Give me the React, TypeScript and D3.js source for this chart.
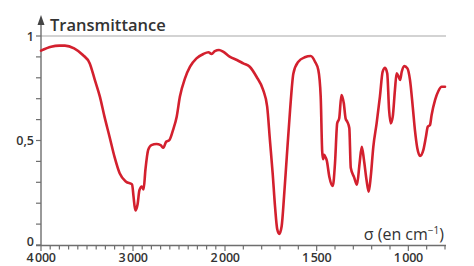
import React from "react";
import * as d3 from "d3";

const wavenumbers: number[] = [
  4000, 3890, 3800, 3740, 3640, 3545, 3470, 3415, 3360, 3310, 3255, 3200, 3145, 3075, 3010,
  2995, 2975, 2950, 2930, 2905, 2885, 2865, 2835, 2800, 2745, 2700, 2670, 2640, 2605, 2565,
  2525, 2490, 2435, 2380, 2310, 2235, 2180, 2145, 2110, 2065, 2020, 1975, 1935, 1900, 1865,
  1828, 1792, 1770, 1755, 1740, 1727, 1715, 1704, 1691, 1678, 1663, 1645, 1627, 1600, 1565,
  1532, 1509, 1491, 1478, 1470, 1465, 1460, 1452, 1445, 1431, 1412, 1400, 1388, 1377, 1365,
  1352, 1342, 1333, 1322, 1314, 1296, 1280, 1266, 1254, 1242, 1228, 1216, 1205, 1191, 1173,
  1155, 1140, 1127, 1115, 1105, 1096, 1085, 1073, 1064, 1053, 1045, 1036, 1022, 1005, 991,
  976, 964, 951, 936, 918, 904, 894, 882, 873, 854, 836, 818, 800,
];
const transmittance: number[] = [
  0.93, 0.949, 0.954, 0.954, 0.941, 0.909, 0.869, 0.79, 0.71, 0.614, 0.518, 0.42, 0.343, 0.303, 0.29,
  0.235, 0.165, 0.195, 0.262, 0.28, 0.266, 0.36, 0.455, 0.478, 0.483, 0.478, 0.465, 0.494, 0.502, 0.55,
  0.614, 0.71, 0.797, 0.853, 0.893, 0.914, 0.922, 0.914, 0.928, 0.933, 0.925, 0.901, 0.885, 0.869, 0.853,
  0.805, 0.742, 0.662, 0.502, 0.343, 0.183, 0.075, 0.053, 0.09, 0.231, 0.422, 0.646, 0.821, 0.877, 0.898,
  0.904, 0.877, 0.837, 0.71, 0.45, 0.41, 0.431, 0.42, 0.405, 0.327, 0.282, 0.391, 0.582, 0.606, 0.718,
  0.678, 0.605, 0.59, 0.56, 0.37, 0.325, 0.288, 0.39, 0.47, 0.407, 0.311, 0.255, 0.327, 0.47, 0.582,
  0.71, 0.829, 0.848, 0.821, 0.646, 0.582, 0.614, 0.742, 0.821, 0.805, 0.79, 0.829, 0.856, 0.845, 0.79,
  0.662, 0.55, 0.463, 0.426, 0.455, 0.518, 0.566, 0.574, 0.622, 0.694, 0.737, 0.757, 0.757,
];
const xTickValues: number[] = [4000, 3000, 2000, 1500, 1000];
const xTickLabels: string[] = ["4\u2009000", "3\u2009000", "2\u2009000", "1\u2009500", "1\u2009000"];
const yTickValues: number[] = [0, 0.5, 1];
const yTickLabels: string[] = ["0", "0,5", "1"];
const yTitle = "Transmittance";

const FONT = "'Open Sans', 'DejaVu Sans', sans-serif";

export default function App() {
  const x = d3.scaleLinear().domain([4000, 2000, 800]).range([41, 225, 445]);
  const y = d3.scaleLinear().domain([0, 1]).range([245, 36]);

  const pts = wavenumbers.map((w, i) => [w, transmittance[i]] as [number, number]);
  const line = d3
    .line<[number, number]>()
    .x((d) => x(d[0]))
    .y((d) => y(d[1]))
    .curve(d3.curveMonotoneX);

  const minorX: number[] = [];
  for (let w = 4000; w >= 800; w -= 100) minorX.push(w);
  const minorY: number[] = d3.range(0, 11).map((i) => i / 10);

  const axisColor = "#6e6e6e";
  const textColor = "#333";

  return (
    <svg
      width={474}
      height={266}
      style={{ position: "absolute", left: 0, top: 0, background: "#fff" }}
    >
      {/* gridline at T = 1 */}
      <line x1={41} x2={446} y1={y(1)} y2={y(1)} stroke="#a8a8a8" strokeWidth={1.2} />

      {/* y axis */}
      <line x1={41} x2={41} y1={245.5} y2={22} stroke={axisColor} strokeWidth={1.4} />
      <path d="M41,15 L37.5,25 L44.5,25 Z" fill="#444" />
      {minorY.map((v) => (
        <line
          key={"yt" + v}
          x1={36}
          x2={41}
          y1={y(v)}
          y2={y(v)}
          stroke={axisColor}
          strokeWidth={1.2}
        />
      ))}
      {yTickValues.map((v, i) => (
        <text
          key={"yl" + v}
          x={34}
          y={v === 0 ? y(v) - 4 : y(v)}
          dy="0.36em"
          textAnchor="end"
          fontFamily={FONT}
          fontSize={12.5}
          fontWeight={600}
          fill={textColor}
        >
          {yTickLabels[i]}
        </text>
      ))}
      <text
        x={50}
        y={31}
        fontFamily={FONT}
        fontSize={16.5}
        fontWeight={600}
        fill={textColor}
      >
        {yTitle}
      </text>

      {/* x axis */}
      <line x1={36} x2={446} y1={245.5} y2={245.5} stroke={axisColor} strokeWidth={1.4} />
      {minorX.map((w) => (
        <line
          key={"xt" + w}
          x1={x(w)}
          x2={x(w)}
          y1={245.5}
          y2={xTickValues.includes(w) ? 251 : 249.5}
          stroke={axisColor}
          strokeWidth={1.2}
        />
      ))}
      {xTickValues.map((w, i) => (
        <text
          key={"xl" + w}
          x={x(w)}
          y={262.3}
          textAnchor="middle"
          fontFamily={FONT}
          fontSize={12.5}
          fontWeight={600}
          fill={textColor}
          letterSpacing={-0.3}
        >
          {xTickLabels[i]}
        </text>
      ))}
      <text
        x={444}
        y={240}
        textAnchor="end"
        fontFamily={FONT}
        fontSize={16}
        fill={textColor}
      >
        σ (en cm
        <tspan dy={-6} fontSize={10}>
          −1
        </tspan>
        <tspan dy={6}>)</tspan>
      </text>

      {/* spectrum */}
      <path
        d={line(pts) || ""}
        fill="none"
        stroke="#d3202e"
        strokeWidth={2.6}
        strokeLinejoin="round"
        strokeLinecap="round"
      />
    </svg>
  );
}
